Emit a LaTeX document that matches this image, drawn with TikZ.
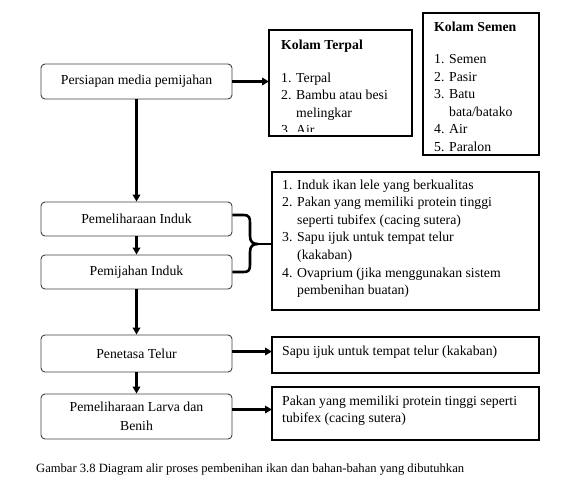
\documentclass[tikz,border=0pt]{standalone}
\usepackage{fontspec}
\setmainfont{Liberation Serif}
\usetikzlibrary{arrows.meta}
\newcommand\bodyfont{\fontsize{13.75}{17.6}\selectfont}
\newcommand\capfont{\fontsize{12.6}{15}\selectfont}
\begin{document}
\begin{tikzpicture}[x=1pt,y=-1pt,
  stepbox/.style={draw=black!75, line width=0.9pt, rounded corners=4pt,
    minimum width=191pt, inner sep=0pt, align=center, font=\bodyfont},
  listbox/.style={draw=black, line width=1.1pt, inner sep=0pt, outer sep=0pt, anchor=north west},
  txt/.style={inner sep=0pt, anchor=base west, font=\bodyfont},
  flow/.style={line width=2.6pt, -{Triangle[length=7pt,width=7.5pt]}},
  bracestyle/.style={line width=2.6pt, line join=round}]
\useasboundingbox (0,0) rectangle (577,495);

% process steps
\node[stepbox, minimum height=35pt] (p1) at (136.5,81.5) {Persiapan media pemijahan};
\node[stepbox, minimum height=34pt] (p2) at (136.5,219) {Pemeliharaan Induk};
\node[stepbox, minimum height=34pt] (p3) at (136.5,272) {Pemijahan Induk};
\node[stepbox, minimum height=37pt] (p4) at (136.5,353.5) {Penetasa Telur};
\node[stepbox, minimum height=45pt, font=\fontsize{13.75}{19}\selectfont] (p5) at (136.5,416.5) {Pemeliharaan Larva dan\\Benih};

% material boxes
\node[listbox, minimum width=143pt, minimum height=106pt] (terpal) at (269,30) {};
\node[listbox, minimum width=116pt, minimum height=142pt] (semen) at (423,13) {};
\node[listbox, minimum width=267pt, minimum height=138pt] (req) at (272,172) {};
\node[listbox, minimum width=267pt, minimum height=36pt] (sapu) at (272,337) {};
\node[listbox, minimum width=267pt, minimum height=53pt] (pakan) at (272,387) {};

% texts in the material boxes
\begin{scope}
\clip (terpal.north west) rectangle ([yshift=4.5pt]terpal.south east);
\node[txt] (terpaltxt) at (281,49) {\begin{tabular}[t]{@{}p{15pt}@{}l@{}}
\multicolumn{2}{@{}l@{}}{\textbf{Kolam Terpal}}\\[15.5pt]
1. & Terpal\\
2. & Bambu atau besi\\
 & melingkar\\
3. & Air
\end{tabular}};
\end{scope}

\node[txt] (sementxt) at (434,31) {\begin{tabular}[t]{@{}p{15pt}@{}l@{}}
\multicolumn{2}{@{}l@{}}{\textbf{Kolam Semen}}\\[14.9pt]
1. & Semen\\
2. & Pasir\\
3. & Batu\\
 & bata/batako\\
4. & Air\\
5. & Paralon
\end{tabular}};

\node[txt] (reqtxt) at (282,189) {\begin{tabular}[t]{@{}p{15pt}@{}l@{}}
1. & Induk ikan lele yang berkualitas\\
2. & Pakan yang memiliki protein tinggi\\
 & seperti tubifex (cacing sutera)\\
3. & Sapu ijuk untuk tempat telur\\
 & (kakaban)\\
4. & Ovaprium (jika menggunakan sistem\\
 & pembenihan buatan)
\end{tabular}};

\node[txt] (saputxt) at (282,355) {Sapu ijuk untuk tempat telur (kakaban)};

\node[txt] (pakantxt) at (282,405) {\begin{tabular}[t]{@{}l@{}}
Pakan yang memiliki protein tinggi seperti\\
tubifex (cacing sutera)
\end{tabular}};

% flow arrows
\draw[flow] (p1.south) -- (p2.north);
\draw[flow] (p2.south) -- (p3.north);
\draw[flow] (p3.south) -- (p4.north);
\draw[flow] (p4.south) -- (p5.north);
\draw[flow] (p1.east) -- (p1.east -| terpal.west);
\draw[flow] ([yshift=2pt]p4.east) -- ([yshift=2pt]p4.east -| sapu.west);
\draw[flow] ([yshift=7pt]p5.east) -- ([yshift=7pt]p5.east -| pakan.west);

% brace
\coordinate (tip) at (258,244);
\draw[bracestyle] ([yshift=4pt]p2.east) -- (243,215)
  .. controls (250,215) and (250,218) .. (250,224) -- (250,236)
  .. controls (250,242) and (253,244) .. (tip)
  .. controls (253,244) and (250,246) .. (250,252) -- (250,265)
  .. controls (250,271) and (248,272) .. (243,272) -- (p3.east);
\draw[line width=2.6pt] (tip) -- (tip -| req.west);

% caption
\node[inner sep=0pt, anchor=base west, font=\capfont] (caption) at (36,472)
  {Gambar 3.8 Diagram alir proses pembenihan ikan dan bahan-bahan yang dibutuhkan};
\end{tikzpicture}
\end{document}
